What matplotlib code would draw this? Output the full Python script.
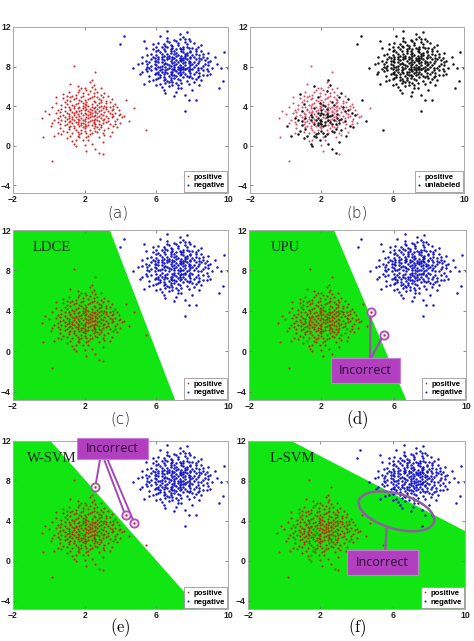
import numpy as np
import matplotlib
matplotlib.use("Agg")
from matplotlib import pyplot as plt
from matplotlib.patches import Rectangle, Ellipse
from matplotlib import transforms

plt.rcParams['mathtext.fontset'] = 'cm'

# positive cloud
pos_pts = [
    (2.1,3.2),(1.5,2.4),(2.8,3.9),(0.9,2.1),(2.3,1.6),(1.8,4.5),(3.1,2.7),(2.6,3.4),(1.2,3.6),(2.0,2.2),
    (0.6,3.0),(3.4,3.3),(1.7,1.2),(2.4,4.9),(2.9,1.9),(1.0,4.2),(2.2,2.8),(3.7,2.5),(1.4,3.1),(2.7,5.4),
    (0.3,2.6),(1.9,0.6),(3.2,4.3),(2.5,2.3),(1.1,1.7),(2.0,5.8),(3.9,3.6),(1.6,3.8),(2.8,0.9),(0.8,4.8),
    (2.3,3.7),(1.3,2.7),(3.5,1.4),(2.1,4.1),(0.5,1.3),(2.6,2.0),(1.8,3.3),(3.0,3.1),(1.5,5.1),(2.4,0.2),
    (-0.2,3.5),(3.3,5.0),(1.0,0.8),(2.9,4.6),(1.7,2.0),(2.2,1.0),(4.1,2.9),(0.7,3.7),(2.5,6.1),(1.2,4.5),
    (3.6,4.0),(1.9,2.6),(2.7,2.9),(0.4,4.3),(1.4,0.2),(3.1,1.1),(2.0,3.9),(1.6,6.0),(2.8,3.5),(0.9,2.9),
    (3.8,1.9),(2.3,2.5),(1.1,5.4),(2.6,4.4),(1.5,1.6),(3.4,2.2),(0.1,2.0),(2.1,-0.5),(2.9,5.8),(1.8,4.9),
    (3.2,3.7),(0.6,1.8),(2.4,3.0),(1.3,3.4),(4.2,3.0),(2.7,1.4),(1.0,3.3),(1.9,1.9),(3.0,4.9),(2.2,5.2),
    (0.2,3.9),(1.6,2.2),(3.6,3.0),(2.5,3.8),(1.2,1.0),(2.0,4.6),(3.3,1.8),(0.8,5.2),(2.8,2.5),(1.4,4.0),
    (2.6,-0.3),(1.7,5.6),(3.7,4.2),(2.1,2.0),(0.5,2.4),(3.1,3.4),(1.5,2.9),(2.3,6.4),(1.0,1.4),(2.9,3.2),
    (-0.4,2.8),(1.8,3.6),(3.5,4.7),(2.4,1.3),(0.9,3.9),(2.7,4.1),(1.3,0.5),(3.2,2.4),(2.0,1.5),(1.6,4.3),
    (4.0,2.3),(0.3,1.0),(2.5,5.0),(1.1,2.4),(2.8,1.7),(1.9,5.3),(3.4,3.9),(0.7,2.6),(2.2,3.5),(1.4,1.8),
    (3.0,0.4),(2.6,2.7),(1.2,6.2),(3.7,3.3),(0.0,3.2),(2.1,4.4),(1.7,0.9),(2.9,2.1),(1.0,4.6),(2.3,2.9),
    (4.0,3.2),(1.5,3.5),(2.4,6.6),(0.6,3.4),(3.3,2.8),(1.8,2.3),(2.4,4.2),(1.1,3.0),(3.1,5.3),(2.0,0.1),
    (0.4,4.9),(2.6,3.1),(1.6,1.4),(3.8,2.7),(2.2,2.4),(1.3,5.0),(2.9,4.0),(0.8,1.5),(2.5,1.8),(1.9,4.0),
    (3.5,3.6),(1.0,2.2),(2.1,5.6),(2.8,-0.8),(0.2,2.3),(1.4,4.7),(3.0,2.6),(2.3,4.8),(1.7,3.0),(4.5,2.5),
    (1.2,2.0),(2.6,5.7),(3.4,1.0),(0.7,4.1),(2.0,2.7),(1.5,0.0),(3.2,4.5),(2.4,3.6),(0.9,3.5),(1.8,1.6),
    (2.7,3.7),(3.6,2.0),(1.1,3.9),(2.2,0.6),(0.5,2.8),(2.9,4.4),(1.6,5.4),(3.9,3.1),(2.5,2.6),(1.3,2.3),
    (1.9,3.1),(2.3,3.4),(1.6,2.7),(2.6,2.2),(1.4,3.8),(2.8,3.0),(2.0,2.5),(1.7,3.5),(2.4,2.1),(2.2,4.0),
    (1.3,2.9),(2.9,3.6),(1.8,2.1),(2.5,4.5),(1.1,3.2),(3.0,2.3),(2.1,3.7),(1.5,4.2),(2.7,2.6),(2.0,1.8),
    (1.6,3.2),(3.3,3.5),(1.2,2.5),(2.4,3.3),(1.9,4.3),(2.7,1.9),(0.8,3.1),(2.2,2.1),(3.1,4.0),(1.4,2.0),
    (2.5,3.0),(1.7,4.6),(3.5,2.9),(2.0,3.3),(1.0,2.7),(2.8,4.7),(2.3,1.2),(1.5,3.4),(3.2,3.0),(1.8,2.8),
    (2.6,3.9),(0.9,4.4),(2.1,1.3),(3.0,3.8),(1.3,4.1),(2.4,2.6),(1.9,5.0),(3.6,3.7),(1.6,1.0),(2.2,3.1),
    (0.6,2.2),(2.9,2.8),(1.2,3.7),(2.5,5.3),(1.8,1.3),(3.4,4.4),(2.0,4.2),(1.4,2.6),(2.7,3.3),(1.1,1.9),
    (2.3,5.5),(3.7,2.2),(1.7,3.9),(2.6,1.5),(0.4,3.3),(2.1,2.9),(3.1,1.6),(1.5,4.8),(2.8,4.3),(1.9,2.3),
    (1.0,5.0),(2.4,3.9),(3.3,2.5),(1.6,2.4),(2.2,4.7),(0.7,1.2),(2.9,5.1),(1.3,1.3),(2.0,3.6),(3.8,3.9),
    (1.8,5.8),(2.5,2.4),(1.2,4.9),(3.0,1.3),(2.3,3.2),(1.5,0.6),(2.7,4.9),(0.9,2.5),(3.5,3.2),(2.1,0.9),
    (1.7,2.6),(2.6,3.5),(1.4,3.3),(3.2,3.9),(2.0,2.0),(0.5,3.6),(2.8,2.2),(1.9,3.8),(2.4,5.9),(1.1,2.8),
    (1.4,8.1),(0.2,-1.6),(5.45,1.6),(4.75,3.85),(2.6,7.4),(4.3,4.65),(3.0,-0.9),(-0.3,0.9),
]

# negative cloud
neg_pts = [
    (7.0,8.2),(6.5,7.6),(7.6,8.9),(6.1,8.5),(7.3,7.1),(6.8,9.4),(8.1,8.0),(7.5,8.4),(6.3,9.0),(7.1,7.5),
    (5.7,8.1),(8.4,8.6),(6.7,6.4),(7.4,9.8),(7.9,7.0),(6.0,9.2),(7.2,8.0),(8.6,7.6),(6.4,8.3),(7.7,10.3),
    (5.4,7.7),(6.9,6.1),(8.2,9.3),(7.5,7.4),(6.1,6.8),(7.0,10.7),(8.9,8.5),(6.6,8.8),(7.8,6.2),(5.8,9.8),
    (7.3,8.7),(6.3,7.8),(8.5,6.6),(7.1,9.1),(5.6,6.5),(7.6,7.2),(6.8,8.1),(8.0,8.3),(6.5,10.1),(7.4,5.8),
    (5.2,8.4),(8.3,10.0),(6.0,6.1),(7.9,9.6),(6.7,7.0),(7.2,6.7),(9.1,7.9),(5.7,8.8),(7.5,11.0),(6.2,9.5),
    (8.6,9.0),(6.9,7.7),(7.7,7.9),(5.5,9.2),(6.4,5.6),(8.1,6.4),(7.0,8.9),(6.6,10.9),(7.8,8.6),(5.9,7.9),
    (8.8,7.1),(7.3,7.6),(6.1,10.4),(7.6,9.3),(6.5,6.7),(8.4,7.3),(5.1,7.2),(7.1,5.4),(7.9,10.6),(6.8,9.8),
    (8.2,8.8),(5.6,7.0),(7.4,8.0),(6.3,8.5),(9.4,8.3),(7.7,6.5),(6.0,8.2),(6.9,7.1),(8.0,9.9),(7.2,10.2),
    (5.2,9.0),(6.6,7.3),(8.6,8.1),(7.5,8.7),(6.2,6.2),(7.0,9.6),(8.3,6.9),(5.8,10.3),(7.8,7.6),(6.4,9.1),
    (7.6,5.1),(6.7,10.5),(8.9,9.4),(7.1,7.0),(5.5,7.5),(8.1,8.5),(6.5,8.0),(7.3,11.3),(6.0,6.7),(7.9,8.2),
    (4.7,7.9),(6.8,8.6),(8.5,9.6),(7.4,6.3),(5.9,8.9),(7.7,9.2),(6.3,5.9),(8.2,7.4),(7.0,6.8),(6.6,9.3),
    (9.0,7.2),(5.3,6.2),(7.5,10.0),(6.1,7.4),(7.8,6.9),(6.9,10.1),(8.4,9.2),(5.7,7.6),(7.2,8.5),(6.4,6.9),
    (8.0,5.6),(7.6,7.8),(6.2,11.1),(8.7,8.3),(5.0,8.3),(7.1,9.4),(6.7,6.0),(7.9,7.3),(6.0,9.6),(7.3,7.9),
    (9.3,9.0),(6.5,8.4),(7.7,11.5),(5.6,8.5),(8.3,7.9),(6.8,7.4),(7.4,9.1),(6.1,8.0),(8.1,10.4),(7.0,5.0),
    (5.4,9.9),(7.6,8.2),(6.6,6.5),(8.8,7.8),(7.2,7.3),(6.3,10.0),(7.9,9.0),(5.8,6.6),(7.5,6.9),(6.9,9.0),
    (8.5,8.8),(6.0,7.3),(7.1,10.6),(7.8,4.6),(5.2,7.4),(6.4,9.8),(8.0,7.7),(7.3,9.9),(6.7,8.2),(9.6,7.9),
    (6.2,7.1),(7.6,10.8),(8.4,6.1),(5.7,9.3),(7.0,7.8),(6.5,5.3),(8.2,9.6),(7.4,8.8),(5.9,8.6),(6.8,6.8),
    (7.7,8.8),(8.6,7.1),(6.1,9.0),(7.2,5.8),(5.5,8.0),(7.9,9.5),(6.6,10.6),(8.9,8.2),(7.5,7.7),(6.3,7.4),
    (7.1,8.3),(6.7,7.9),(7.4,8.6),(6.9,8.8),(7.6,7.7),(6.4,8.7),(7.8,8.4),(7.2,9.2),(6.6,8.3),(7.3,7.4),
    (6.2,8.0),(7.9,8.9),(6.8,7.2),(7.5,9.5),(7.0,7.1),(6.3,9.3),(8.2,8.2),(6.9,9.9),(7.7,7.0),(6.5,7.4),
    (8.0,9.2),(7.2,7.8),(6.1,8.8),(7.5,8.0),(6.8,10.2),(8.3,8.4),(6.4,7.2),(7.1,8.7),(7.8,9.9),(6.0,7.7),
    (7.4,7.2),(6.7,9.1),(8.5,7.9),(7.0,9.3),(6.2,6.9),(7.6,8.5),(6.9,8.4),(8.1,7.2),(6.5,9.6),(7.3,6.6),
    (5.9,8.3),(7.8,7.5),(7.0,7.6),(6.6,10.0),(8.4,8.9),(7.3,8.9),(6.3,8.1),(7.7,10.0),(5.8,9.0),(8.0,6.8),
    (7.1,6.3),(6.6,7.7),(8.7,8.7),(7.4,9.6),(6.0,8.6),(7.9,7.8),(6.8,6.6),(7.2,10.4),(8.3,7.6),(6.4,10.3),
    (7.5,8.9),(5.6,7.9),(8.6,9.3),(6.9,7.4),(7.7,9.4),(6.1,9.7),(8.2,6.7),(7.0,8.5),(6.5,6.3),(7.6,9.1),
    (5.4,8.6),(8.8,8.9),(7.3,8.2),(6.7,8.9),(7.9,8.5),(6.2,7.6),(8.1,9.0),(7.1,9.8),(6.4,6.6),(7.8,8.0),
    (9.0,8.6),(6.8,9.6),(7.4,7.7),(6.0,10.0),(8.4,7.0),(7.2,6.1),(5.9,7.2),(7.6,10.5),(6.6,9.0),(8.5,10.2),
    (7.0,8.0),(6.3,8.8),(7.8,10.8),(5.5,8.3),(8.9,7.5),(6.9,6.4),(7.5,9.8),(6.1,7.2),(8.2,9.8),(7.3,10.8),
    (7.6,3.5),(10.0,7.9),(4.2,11.1),(4.0,10.3),(9.7,6.5),(9.8,9.5),(6.6,11.6),(5.3,10.6),(9.5,5.8),(8.2,4.6),
]

# decision regions (green side), corner points of each boundary
boundaries = {
    'LDCE':  [(-2, 12), (3.4, 12), (7.05, -4.8), (-2, -4.8)],
    'UPU':   [(-2, 12), (2.7, 12), (6.7, -4.8), (-2, -4.8)],
    'W-SVM': [(-2, 12), (0.1, 12), (8.4, -4.8), (-2, -4.8)],
    'L-SVM': [(-2, 12), (0.4, 12), (10, 3.0), (10, -4.8), (-2, -4.8)],
}

pos = np.array(pos_pts)
neg = np.array(neg_pts)
unl_mask = np.arange(len(pos)) % 3 == 0   # positives hidden in the unlabeled set

RED = '#d42a2a'
RED2 = '#c8200c'
BLUE = '#1414c8'
GREEN = '#12e612'
PURPLE = '#b23fc0'
LINEP = '#a548b5'

fig = plt.figure(figsize=(4.74, 6.41), dpi=100)
W, H = 474.0, 641.0
def mkax(l, t, r, b):
    return fig.add_axes([l / W, 1 - b / H, (r - l) / W, (b - t) / H])

axes = [mkax(13, 27, 228, 193), mkax(250, 27, 464, 193),
        mkax(13, 230, 228, 400), mkax(249, 230, 466, 400),
        mkax(13, 441, 228, 609), mkax(248, 441, 465, 609)]

def style(ax):
    ax.set_xlim(-2, 10)
    ax.set_ylim(-4.8, 12)
    ax.set_xticks([-2, 2, 6, 10])
    ax.set_yticks([-4, 0, 4, 8, 12])
    ax.tick_params(direction='in', length=2.5, width=0.6, top=True, right=True,
                   labelsize=6.2, pad=1.5, colors='#777777', labelcolor='#222222')
    for lab in ax.get_xticklabels() + ax.get_yticklabels():
        lab.set_fontweight('bold')
        lab.set_family('Liberation Sans')
    for s in ax.spines.values():
        s.set_color('#aaaaaa')
        s.set_linewidth(0.7)

def leg(ax, handles, labels):
    l = ax.legend(handles, labels, loc='lower right',
                  prop={'size': 5.6, 'weight': 'bold', 'family': 'Liberation Sans'},
                  handlelength=0.5, handletextpad=0.4, borderpad=0.3, borderaxespad=0.15,
                  labelspacing=0.15, fancybox=False, framealpha=1, markerscale=0.8)
    l.get_frame().set_edgecolor('#999999')
    l.get_frame().set_linewidth(0.6)
    l.set_zorder(7)

ms = 1.5
# (a)
ax = axes[0]
style(ax)
hp, = ax.plot(pos[:, 0], pos[:, 1], 'o', ms=ms, mew=0, color=RED)
hn, = ax.plot(neg[:, 0], neg[:, 1], 'o', ms=ms + 0.3, mew=0, color=BLUE)
leg(ax, [hp, hn], ['positive', 'negative'])

# (b)
ax = axes[1]
style(ax)
hp, = ax.plot(pos[~unl_mask, 0], pos[~unl_mask, 1], 'o', ms=ms, mew=0, color='#e0506a')
unl = np.vstack([pos[unl_mask], neg])
hu, = ax.plot(unl[:, 0], unl[:, 1], 'o', ms=ms + 0.3, mew=0, color='#111111')
leg(ax, [hp, hu], ['positive', 'unlabeled'])

names = ['LDCE', 'UPU', 'W-SVM', 'L-SVM']
name_x = [-0.9, -0.8, -1.2, -0.8]
for ax, name, nx in zip(axes[2:], names, name_x):
    style(ax)
    poly = np.array(boundaries[name])
    ax.fill(poly[:, 0], poly[:, 1], color=GREEN, lw=0, zorder=0)
    hp, = ax.plot(pos[:, 0], pos[:, 1], 'o', ms=ms, mew=0, color=RED2)
    hn, = ax.plot(neg[:, 0], neg[:, 1], 'o', ms=ms + 0.3, mew=0, color=BLUE)
    ax.text(nx, 10.3, name, family='Liberation Serif', fontsize=10.5, color='#1a2a1a',
            va='center', ha='left')
    leg(ax, [hp, hn], ['positive', 'negative'])

def incorrect_box(ax, x0, x1, y0, y1):
    ax.add_patch(Rectangle((x0, y0), x1 - x0, y1 - y0, facecolor=PURPLE, edgecolor='#c77fd2',
                           lw=0.8, zorder=5, clip_on=False))
    ax.text((x0 + x1) / 2, (y0 + y1) / 2, 'Incorrect', family='Open Sans', fontsize=9,
            color='#2a0a32', ha='center', va='center', zorder=6, clip_on=False)

def ring(ax, x, y, ec='#b04cc0'):
    ax.plot([x], [y], 'o', ms=6, mfc='#f4e4f4', mec=ec, mew=1.3, zorder=4)
    ax.plot([x], [y], 'o', ms=1.6, mew=0, color=RED2, zorder=4)

# (d) UPU
ax = axes[3]
ax.plot([4.69, 4.72], [-0.6, 3.55], color=LINEP, lw=1.6, zorder=4)
ax.plot([4.76, 5.37], [-0.6, 1.4], color=LINEP, lw=1.6, zorder=4)
ring(ax, 4.75, 3.85)
ring(ax, 5.45, 1.6)
incorrect_box(ax, 2.52, 6.34, -3.1, -0.6)

# (e) W-SVM
ax = axes[4]
ax.plot([2.86, 2.62], [10.18, 7.7], color=LINEP, lw=1.4, zorder=4)
ax.plot([3.08, 4.2], [10.18, 4.9], color=LINEP, lw=1.4, zorder=4)
ax.plot([3.27, 4.69], [10.18, 4.15], color=LINEP, lw=1.4, zorder=4)
ring(ax, 2.6, 7.4, ec='#8a6a90')
ring(ax, 4.3, 4.65)
ring(ax, 4.75, 3.85)
incorrect_box(ax, 1.56, 5.52, 10.18, 12.33)

# (f) L-SVM
ax = axes[5]
ell = Ellipse((0, 0), 0.78, 0.35, angle=-16, fill=False, ec='#8e5f9c', lw=1.8, zorder=4,
              transform=fig.dpi_scale_trans + transforms.ScaledTranslation(6.21, 4.97, ax.transData))
ax.add_patch(ell)
ax.plot([5.6, 5.66], [1.07, 3.2], color='#8e5f9c', lw=1.8, zorder=4)
incorrect_box(ax, 3.49, 7.39, -1.39, 1.07)

# panel captions
caps = [('(a)', 118, 213, False), ('(b)', 357, 213, False), ('(c)', 120, 419, False),
        ('(d)', 357, 420, True), ('(e)', 120, 628, True), ('(f)', 357, 628, True)]
for txt, cx, cy, cm in caps:
    if cm:
        fig.text(cx / W, 1 - cy / H, r'$\mathrm{%s}$' % txt, fontsize=12, ha='center', va='center')
    else:
        fig.text(cx / W, 1 - cy / H, txt, fontsize=11, ha='center', va='center',
                 family='DejaVu Sans', fontweight='light', color='#222222')

fig.savefig('out.png', dpi=100)
